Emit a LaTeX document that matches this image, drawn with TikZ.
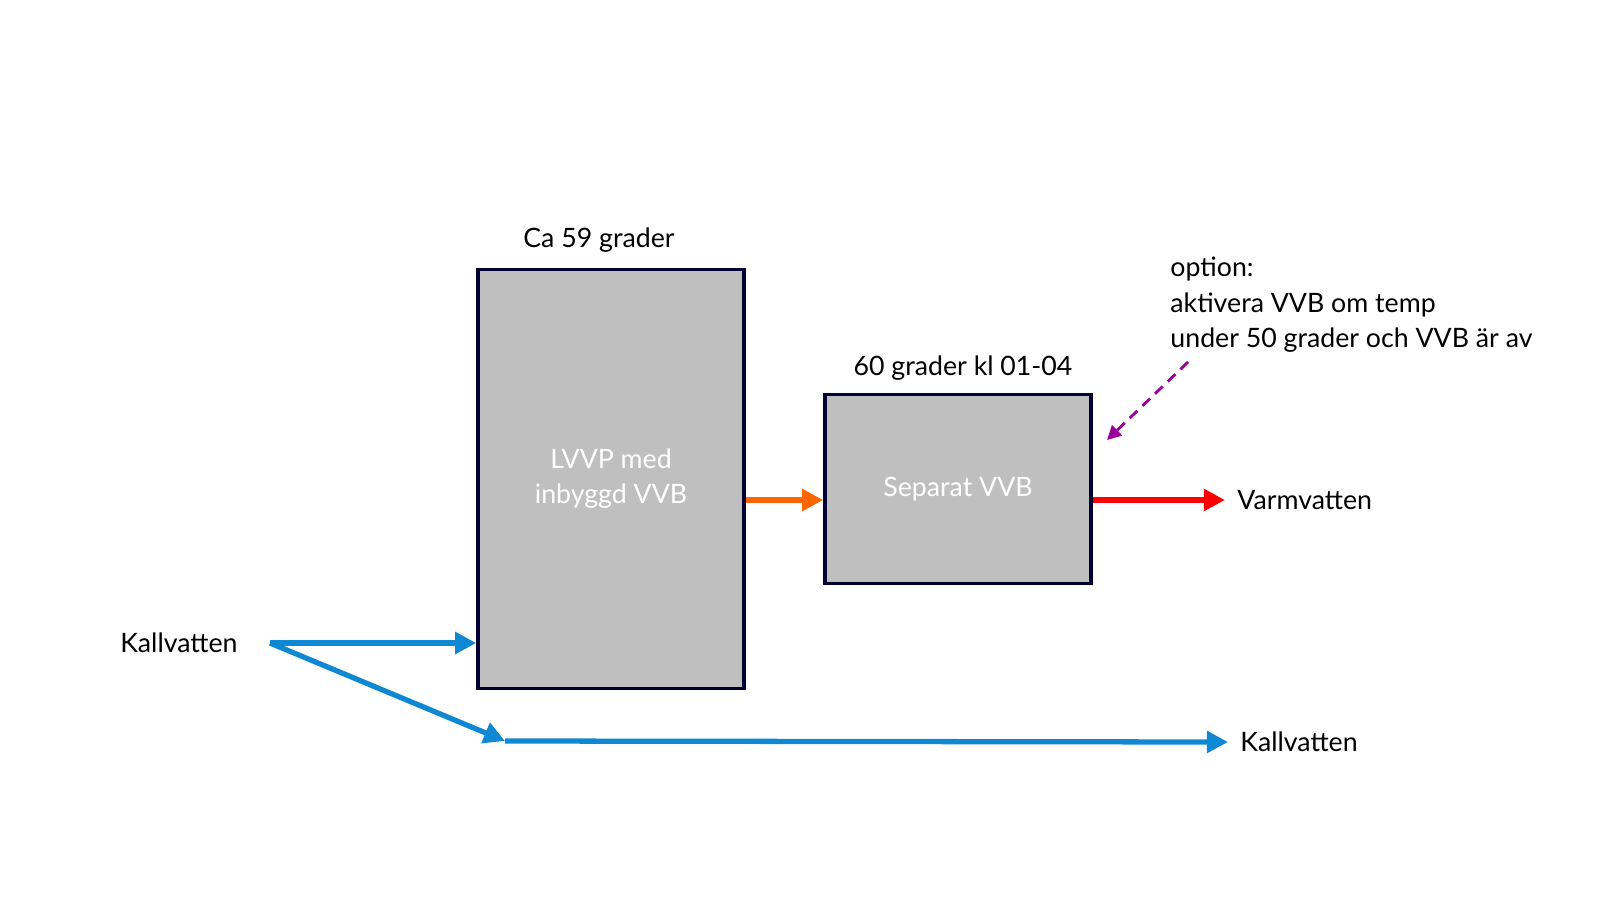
\documentclass[tikz,border=0pt]{standalone}
\usepackage{fontspec}
\setmainfont{Lato}
\usetikzlibrary{positioning,arrows.meta}

\tikzset{
  box/.style={draw=black!80!blue, line width=1pt, fill=black!25, text=white, align=center, inner sep=0pt},
  pipe/.style={line width=1.5pt, -{Triangle[length=6pt,width=6pt]}},
  lbl/.style={font=\fontsize{7.6}{10}\selectfont}
}

\begin{document}
\begin{tikzpicture}
    \useasboundingbox (0,0) rectangle (16,9);
    \node[box, lbl, minimum width=2.66cm, minimum height=4.19cm] (lvvp) at (6.11,4.21) {LVVP med\\inbyggd VVB};
    \node[box, lbl, minimum width=2.66cm, minimum height=1.89cm] (vvb) at (9.58,4.11) {Separat VVB};
    \node[lbl] (t1) at (5.99,6.60) {Ca 59 grader};
    \node[lbl] (t2) at (9.63,5.32) {60 grader kl 01-04};
    \node[lbl, align=left, anchor=north west] (opt) at (11.58,6.55) {option:\\aktivera VVB om temp\\under 50 grader och VVB är av};

    \node[lbl, anchor=east] (kin) at (2.50,2.57) {Kallvatten};
    \node[lbl, anchor=west] (varm) at (12.25,4.00) {Varmvatten};
    \node[lbl, anchor=west] (kut) at (12.28,1.58) {Kallvatten};
    \coordinate (split) at (2.70,2.57);
    \coordinate (knee) at (5.05,1.59);
    \coordinate (lvvpin) at (lvvp.west |- split);
    \coordinate (oa) at (11.88,5.38);
    \coordinate (ob) at (11.07,4.60);

    \draw[pipe, draw=cyan!70!blue, fill=cyan!70!blue] (split) -- (lvvpin);
    \draw[pipe, draw=cyan!70!blue, fill=cyan!70!blue] (split) -- (knee);
    \draw[pipe, draw=cyan!70!blue, fill=cyan!70!blue] (knee) -- (kut.west);
    \draw[pipe, draw=orange!80!red, fill=orange!80!red] (lvvp.east |- varm) -- (vvb.west |- varm);
    \draw[pipe, draw=red] (vvb.east |- varm) -- (varm.west);
    \draw[densely dashed, violet!80!magenta, line width=0.8pt, -{Triangle[length=4pt,width=4pt]}] (oa) -- (ob);
\end{tikzpicture}
\end{document}
